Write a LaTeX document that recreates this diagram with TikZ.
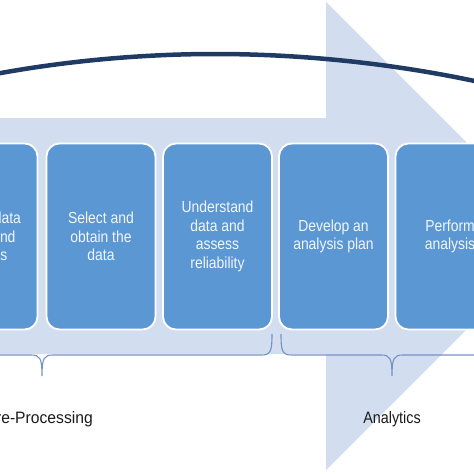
\documentclass[tikz,border=0pt]{standalone}
\usepackage{fontspec}
\setmainfont{Liberation Sans}[FakeStretch=0.87]
\newfontfamily\prefont{Liberation Sans}[FakeStretch=0.95]
\definecolor{arrowfill}{HTML}{D2DDEF}
\definecolor{boxfill}{HTML}{5B97D3}
\definecolor{arcline}{HTML}{1F3B63}
\definecolor{braceline}{HTML}{7393C4}
\definecolor{boxtext}{HTML}{F2F6FB}
\definecolor{labeltext}{HTML}{1A1A1A}
\begin{document}
\begin{tikzpicture}[x=1pt,y=-1pt,
  stepbox/.style={draw=white,line width=1.8pt,fill=boxfill,rounded corners=13pt,
    minimum width=109pt,minimum height=186pt,inner sep=0pt,
    text=boxtext,align=center,font=\fontsize{16}{18.5}\selectfont},
  phase/.style={text=labeltext,font=\fontsize{16.5}{19}\selectfont,inner sep=0pt},
  bracestyle/.style={draw=braceline,line width=1.1pt}]
\useasboundingbox (0,0) rectangle (474,474);
\begin{scope}
\clip (0,0) rectangle (474,474);
% big arrow
\fill[arrowfill] (-20,118) -- (326,118) -- (326,2) -- (560,236) -- (326,470) -- (326,354) -- (-20,354) -- cycle;
% arc
\draw[arcline,line width=4.5pt] (-10,75) parabola bend (215,54) (484,83);
% boxes
\node[stepbox] (b1) at (-17,236.5) {Identify data\\needs and\\sources};
\node[stepbox] (b2) at (101,236.5) {Select and\\obtain the\\data};
\node[stepbox] (b3) at (217.5,236.5) {Understand\\data and\\assess\\reliability};
\node[stepbox] (b4) at (333.5,236.5) {Develop an\\analysis plan};
\node[stepbox] (b5) at (450,236.5) {Perform\\analysis};
% braces
\draw[bracestyle] (272,334) .. controls (272,350) and (271,355) .. (262,355) -- (53,355)
  .. controls (44,355) and (42,358) .. (42,376)
  .. controls (42,358) and (40,355) .. (31,355) -- (-200,355);
\draw[bracestyle] (281,334) .. controls (281,350) and (282,355) .. (291,355) -- (381,355)
  .. controls (390,355) and (392,358) .. (392,376)
  .. controls (392,358) and (394,355) .. (403,355) -- (520,355);
% labels
\node[phase,anchor=east,font=\prefont\fontsize{16.5}{19}\selectfont] (pre) at (93,419) {Data Pre-Processing};
\node[phase] (ana) at (392,419) {Analytics};
\end{scope}
\end{tikzpicture}
\end{document}
